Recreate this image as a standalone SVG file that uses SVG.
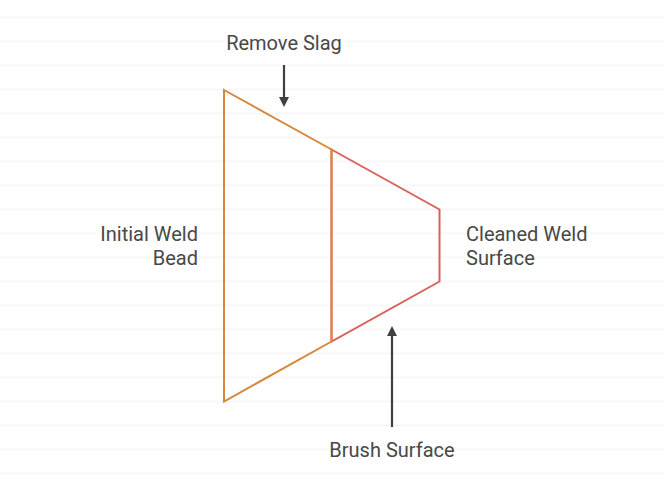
<svg xmlns="http://www.w3.org/2000/svg" width="664" height="490" viewBox="0 0 664 490">
<defs>
<style>
.bg{stroke:#f8f8f8;stroke-width:2}
.lbl{font-family:Roboto,"Liberation Sans",sans-serif;font-size:20px;fill:#484848}
.arr{stroke:#404040;stroke-width:2.2;fill:none}
</style>
<marker id="ah" markerWidth="10" markerHeight="10" refX="5" refY="5" orient="auto" markerUnits="userSpaceOnUse"><path d="M0,0 L10,5 L0,10 Z" fill="#404040"/></marker>
</defs>
<rect width="664" height="490" fill="#ffffff"/>
<g id="background">
<path class="bg" d="M0 17.5H664M0 41.5H664M0 65.5H664M0 89.5H664M0 113.5H664M0 137.5H664M0 161.5H664M0 185.5H664M0 209.5H664M0 233.5H664M0 257.5H664M0 281.5H664M0 305.5H664M0 329.5H664M0 353.5H664M0 377.5H664M0 401.5H664M0 425.5H664M0 449.5H664M0 473.5H664"/>
</g>
<g id="cleaned-weld">
<polygon points="331.5,149.5 439.5,209.5 439.5,281.5 331.5,341.5" fill="none" stroke="#d9625a" stroke-width="2"/>
</g>
<g id="initial-weld">
<polygon points="224,90 331.5,149.5 331.5,341.5 224,401.5" fill="none" stroke="#d6893c" stroke-width="2"/>
</g>
<g id="connectors">
<line class="arr" x1="284" y1="65" x2="284" y2="102" marker-end="url(#ah)"/>
<line class="arr" x1="392" y1="427" x2="392" y2="331" marker-end="url(#ah)"/>
</g>
<g id="label-remove-slag"><text class="lbl" x="284" y="50" text-anchor="middle">Remove Slag</text></g>
<g id="label-initial"><text class="lbl" x="198" y="241" text-anchor="end"><tspan x="198">Initial Weld</tspan><tspan x="198" dy="24">Bead</tspan></text></g>
<g id="label-cleaned"><text class="lbl" x="466" y="241"><tspan x="466">Cleaned Weld</tspan><tspan x="466" dy="24">Surface</tspan></text></g>
<g id="label-brush"><text class="lbl" x="392" y="457" text-anchor="middle">Brush Surface</text></g>
</svg>
